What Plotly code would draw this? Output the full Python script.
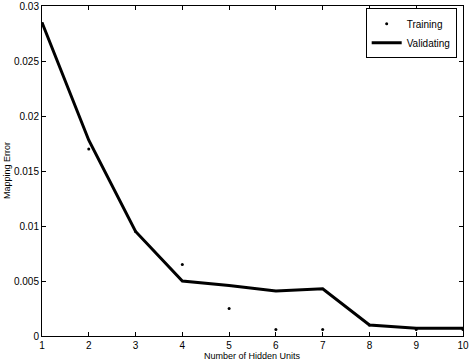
import plotly.graph_objects as go

hidden_units = [1, 2, 3, 4, 5, 6, 7, 8, 9, 10]
training = [0.0284, 0.0170, 0.0095, 0.0065, 0.0025, 0.0006, 0.0006, 0.0010, 0.0006, 0.0006]
validating = [0.0285, 0.0178, 0.0095, 0.0050, 0.0046, 0.0041, 0.0043, 0.0010, 0.0007, 0.0007]

fig = go.Figure()
fig.add_trace(go.Scatter(x=hidden_units, y=training, mode="markers", name="Training",
                         marker=dict(color="black", size=3, symbol="circle")))
fig.add_trace(go.Scatter(x=hidden_units, y=validating, mode="lines", name="Validating",
                         line=dict(color="black", width=3)))

axis_common = dict(showgrid=False, zeroline=False, showline=True, linecolor="black",
                   linewidth=1, mirror="ticks", ticks="inside", ticklen=4,
                   tickcolor="black", tickfont=dict(size=10, color="black"),
                   automargin=False)

fig.update_layout(
    width=474, height=361,
    margin=dict(l=42, r=11, t=6, b=25),
    paper_bgcolor="white", plot_bgcolor="white",
    font=dict(family="Liberation Sans, Arial, sans-serif", color="black", size=10),
    showlegend=True,
    legend=dict(x=0.985, y=0.993, xanchor="right", yanchor="top",
                bgcolor="white", bordercolor="black", borderwidth=1,
                font=dict(size=10), tracegroupgap=0, itemwidth=30),
    xaxis=dict(range=[1, 10], tickvals=hidden_units, ticklabelstandoff=0, **axis_common),
    yaxis=dict(range=[0, 0.03], tickvals=[0, 0.005, 0.01, 0.015, 0.02, 0.025, 0.03],
               ticktext=["0", "0.005", "0.01", "0.015", "0.02", "0.025", "0.03"],
               **axis_common),
    annotations=[
        dict(text="Number of Hidden Units", xref="paper", yref="paper", x=0.5, y=0,
             yshift=-14, xanchor="center", yanchor="top", showarrow=False,
             borderpad=0, font=dict(size=9)),
        dict(text="Mapping Error", xref="paper", yref="paper", x=0, y=0.5,
             xshift=-35, xanchor="center", yanchor="middle", showarrow=False,
             borderpad=0, textangle=-90, font=dict(size=9)),
    ],
)

fig.write_html("out.html", config={"displayModeBar": False},
               post_script="document.body.style.margin='0';document.body.style.overflow='hidden';")
